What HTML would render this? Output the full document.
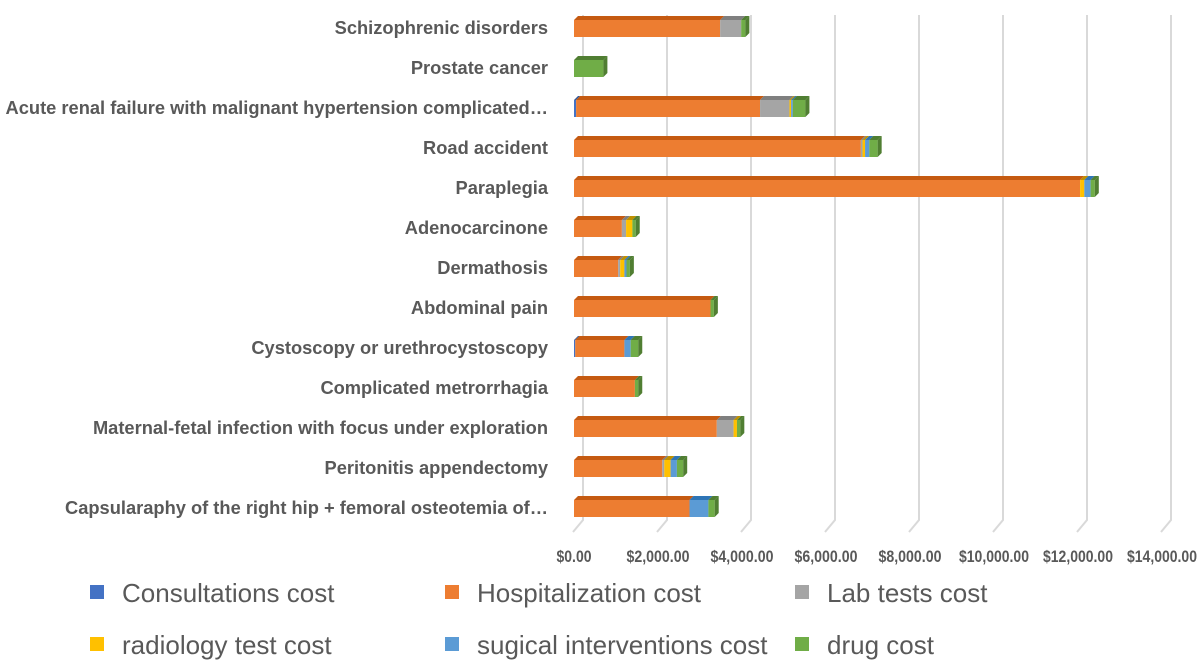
<!DOCTYPE html>
<html><head><meta charset="utf-8"><style>
body{margin:0;background:#fff;}
svg{display:block;font-family:"Liberation Sans",sans-serif;}
</style></head><body>
<svg id="c" width="1200" height="661"></svg>
<script>
const categories=["Schizophrenic disorders","Prostate cancer","Acute renal failure with malignant hypertension complicated…","Road accident","Paraplegia","Adenocarcinone","Dermathosis","Abdominal pain","Cystoscopy or urethrocystoscopy","Complicated metrorrhagia","Maternal-fetal infection with focus under exploration","Peritonitis appendectomy","Capsularaphy of the right hip + femoral osteotemia of…"];
const consultations=[0,0,50,0,0,0,0,0,30,0,0,0,0];
const hospitalization=[3480,0,4380,6830,12050,1140,1050,3250,1170,1450,3400,2100,2750];
const labTests=[500,0,700,40,0,100,50,0,0,0,400,50,0];
const radiology=[0,0,40,60,100,150,100,0,0,0,80,150,0];
const surgical=[0,0,40,100,150,0,50,0,150,0,0,150,450];
const drug=[100,700,300,200,100,80,80,80,180,80,80,150,150];
const ticks=["$0.00","$2,000.00","$4,000.00","$6,000.00","$8,000.00","$10,000.00","$12,000.00","$14,000.00"];
const tickVals=[0,2000,4000,6000,8000,10000,12000,14000];
const seriesNames=["Consultations cost","Hospitalization cost","Lab tests cost","radiology test cost","sugical interventions cost","drug cost"];
const series=[consultations,hospitalization,labTests,radiology,surgical,drug];
const colors=["#4472C4","#ED7D31","#A5A5A5","#FFC000","#5B9BD5","#70AD47"];
const dark=["#2F5597","#C55A11","#7F7F7F","#BF9000","#2E75B6","#507E32"];
const svg=document.getElementById('c');
const NS="http://www.w3.org/2000/svg";
function mk(t,a,p){const e=document.createElementNS(NS,t);for(const k in a)e.setAttribute(k,a[k]);(p||svg).appendChild(e);return e;}
const x0=574,sc=0.042,backX=583;
const xs=v=>x0+v*sc;
const yc=i=>28+i*40;
tickVals.forEach((v,i)=>{
  const gx=backX+v*sc;
  const g=mk('path',{d:`M${gx},15 L${gx},520 L${gx-10},532`,stroke:'#d9d9d9','stroke-width':2,fill:'none'});
  
  
  const t=mk('text',{x:574+v*sc,y:562,'text-anchor':'middle','font-size':17,'font-weight':'bold',fill:'#595959',textLength:ticks[i].length*7,lengthAdjust:'spacingAndGlyphs'});
  t.textContent=ticks[i];
  
  
});
categories.forEach((c,i)=>{
  const t=mk('text',{x:548,y:yc(i)+6,'text-anchor':'end','font-size':18.3,'font-weight':'bold',fill:'#595959'});
  t.textContent=c;
  
  
  let acc=0;const top=yc(i)-8,h=17,d=4;
  series.forEach((s,j)=>{
    const v=s[i];if(!v)return;
    const a=xs(acc),b=xs(acc+v);acc+=v;
    const r=mk('rect',{x:a,y:top,width:b-a,height:h,fill:colors[j]});
    
    
    const tp=mk('polygon',{points:`${a},${top} ${a+d},${top-d} ${b+d},${top-d} ${b},${top}`,fill:dark[j]});
    
    
  });
  let last=-1;series.forEach((s,j)=>{if(s[i])last=j;});
  const e=xs(acc);
  const sd=mk('polygon',{points:`${e},${top} ${e+d},${top-d} ${e+d},${top+h-d} ${e},${top+h}`,fill:dark[last]});
  
  
});
seriesNames.forEach((n,j)=>{
  const lx=[90,445,795][j%3],ly=j<3?593:645;
  const r=mk('rect',{x:lx,y:ly-8,width:14,height:14,fill:colors[j]});
  
  
  const t=mk('text',{x:lx+32,y:ly+9,'font-size':26,fill:'#595959'});
  t.textContent=n;
  
  
});
</script>
</body></html>
